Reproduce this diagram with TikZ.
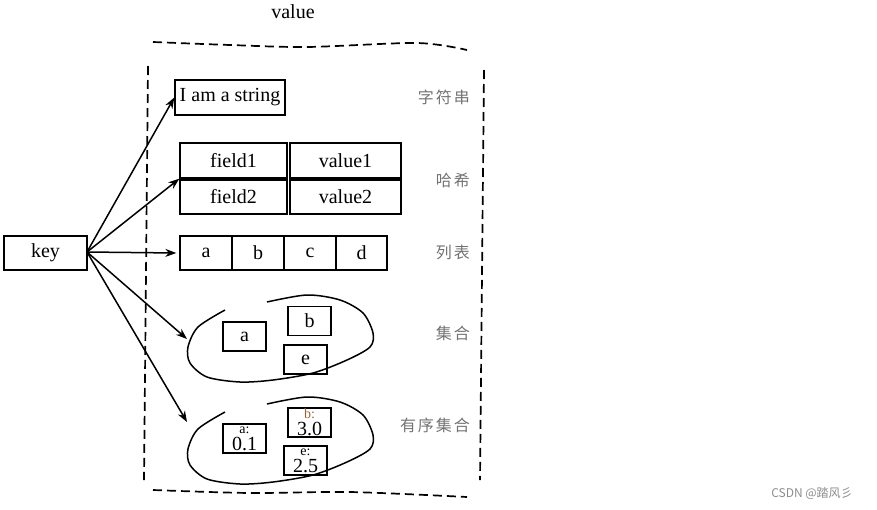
\documentclass[tikz,border=0pt]{standalone}
\usepackage{fontspec}
\setmainfont{Liberation Serif}
\newfontfamily\cjk[LetterSpace=12]{Noto Sans CJK SC}
\newfontfamily\cjkwm{Noto Sans CJK SC}
\usetikzlibrary{arrows.meta}
\begin{document}
\begin{tikzpicture}[x=1pt,y=-1pt,
  box/.style={draw, line width=1.4pt, inner sep=0pt, font=\fontsize{20}{22}\selectfont},
  dashline/.style={line width=1.7pt, dash pattern=on 9pt off 5pt},
  arr/.style={-{Stealth[length=11pt,width=8pt]}, line width=1.5pt},
  lab/.style={font=\cjk\fontsize{16}{20}\selectfont, text=black!55, anchor=east, inner sep=0pt},
  curve/.style={line width=1.5pt}]
\useasboundingbox (0,0) rectangle (877,509);

% title
\node[font=\fontsize{20}{22}\selectfont, inner sep=0pt] (title) at (293,12) {value};

% dashed frame
\draw[dashline] plot[smooth] coordinates {(153,42) (230,45) (307,47) (417,43) (467,50)};
\draw[dashline] plot[smooth] coordinates {(153,490) (250,493) (350,492) (467,497)};
\draw[dashline] (148,66) -- (144,480);
\draw[dashline] (484,70) -- (480,480);

% key
\node[box, minimum width=83, minimum height=34] (key) at (45.5,253) {key};

% string
\node[box, minimum width=110, minimum height=35] (str) at (230,97.5) {I am a string};
\node[lab] (lstr) at (470,97) {字符串};

% hash
\node[box, minimum width=107, minimum height=35] (f1) at (233.5,160.5) {field1};
\node[box, minimum width=111, minimum height=35] (v1) at (345.5,160.5) {value1};
\node[box, minimum width=107, minimum height=34] (f2) at (233.5,197) {field2};
\node[box, minimum width=111, minimum height=34] (v2) at (345.5,197) {value2};
\node[lab] (lhash) at (470,180) {哈希};

% list
\node[box, minimum width=52, minimum height=34] (la) at (206,253) {a};
\node[box, minimum width=52, minimum height=34] (lb) at (258,253) {b};
\node[box, minimum width=52, minimum height=34] (lc) at (310,253) {c};
\node[box, minimum width=51, minimum height=34] (ld) at (361.5,253) {d};
\node[lab] (llist) at (470,252) {列表};

% set
\draw[curve] plot[smooth] coordinates {(225,310) (198,327) (188,347) (190,363) (207,377) (240,382) (273,380) (313,373) (347,360) (370,347) (373,333) (363,313) (340,300) (307,295) (267,302)};
\node[box, minimum width=43, minimum height=29] (sa) at (244.5,336.5) {a};
\node[box, minimum width=43, minimum height=29] (sb) at (309.5,321) {b};
\node[box, minimum width=43, minimum height=29] (se) at (305.5,359.5) {e};
\node[lab] (lset) at (470,333) {集合};
\coordinate (settip) at (187,339);

% sorted set
\draw[curve] plot[smooth] coordinates {(225,412) (198,429) (188,449) (190,465) (207,479) (240,484) (273,482) (313,475) (347,462) (370,449) (373,435) (363,415) (340,402) (307,397) (267,404)};
\node[box, minimum width=43, minimum height=29, align=center] (za) at (244.5,438.5) {{\fontsize{14}{14}\selectfont a:}\\[-5pt]0.1};
\node[box, minimum width=43, minimum height=29, align=center] (zb) at (309.5,422.5) {{\fontsize{14}{14}\selectfont\color{brown!80!black} b:}\\[-5pt]3.0};
\node[box, minimum width=43, minimum height=29, align=center] (ze) at (305.5,460.5) {{\fontsize{14}{14}\selectfont e:}\\[-5pt]2.5};
\node[lab] (lzset) at (470,425) {有序集合};
\coordinate (zsettip) at (187,422);

% arrows
\coordinate (hub) at (87,252);
\draw[arr] (hub) -- (str.west);
\draw[arr] (hub) -- (f1.south west);
\draw[arr] (hub) -- ([xshift=-3pt]la.west);
\draw[arr] (hub) -- (settip);
\draw[arr] (hub) -- (zsettip);

% watermark
\node[font=\cjkwm\fontsize{12}{14}\selectfont, text=black!45, inner sep=0pt] (wm) at (812,493) {CSDN @踏风彡};
\end{tikzpicture}
\end{document}
